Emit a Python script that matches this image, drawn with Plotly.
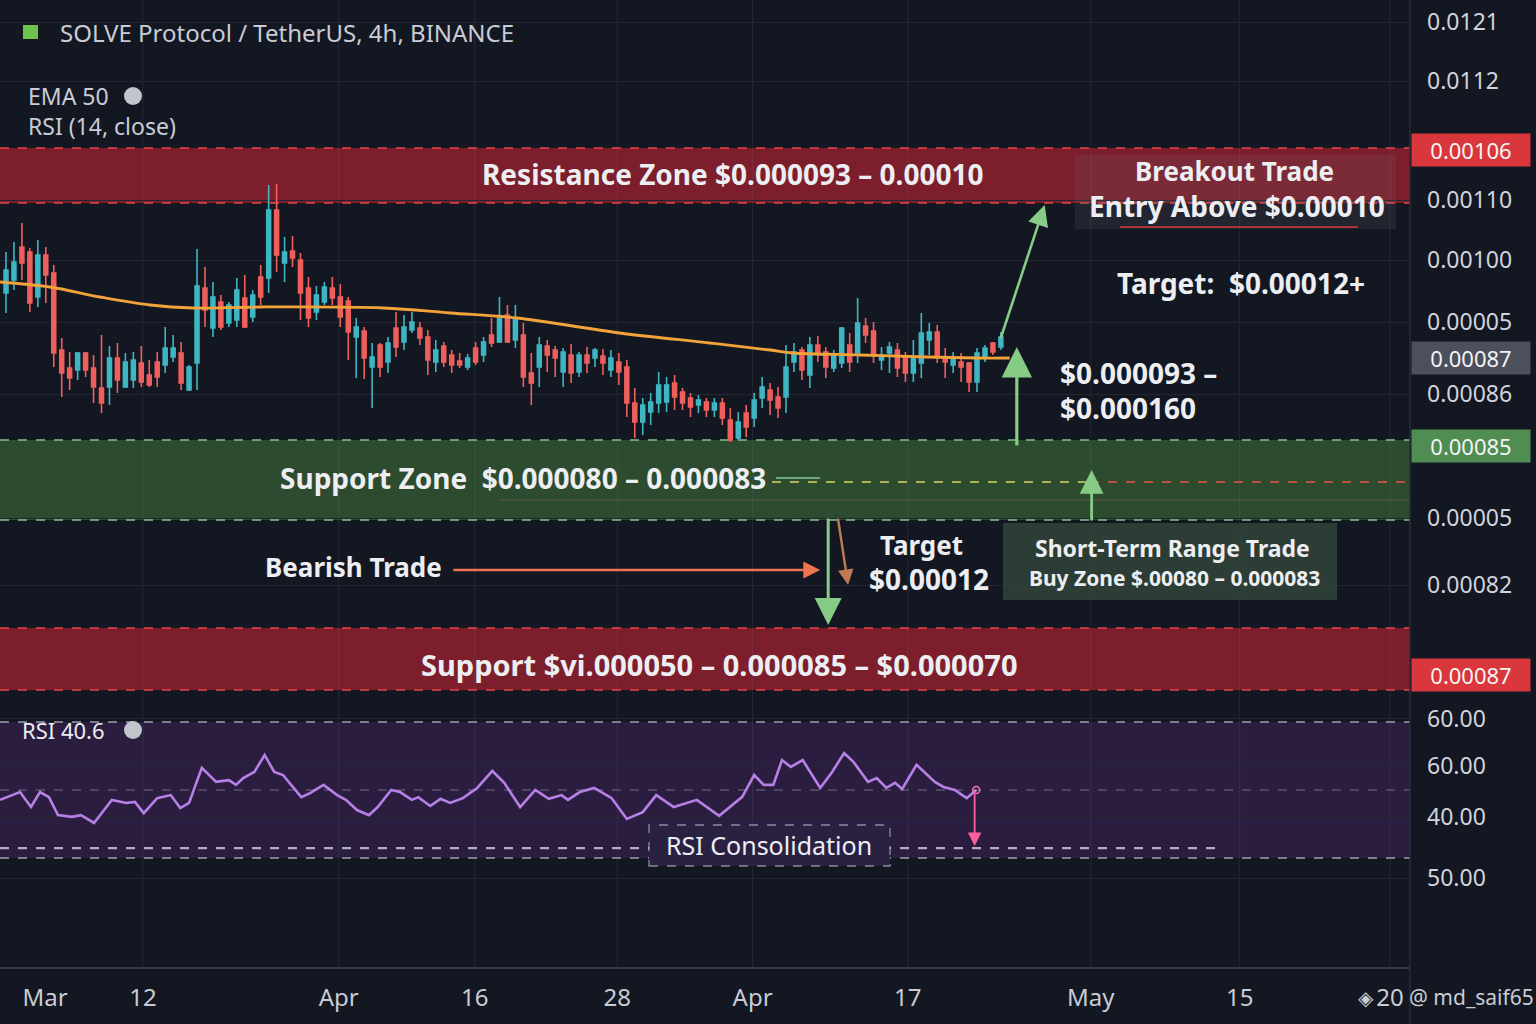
import numpy as np
import plotly.graph_objects as go

# ---------------- data (prices in micro-USDT, 1e-6) ----------------
U = 1e-6
open_u = [90.7, 92.0, 95.3, 94.8, 90.3, 94.5, 92.7, 85.0, 83.2, 83.0,
          84.7, 83.2, 81.2, 81.3, 84.2, 81.3, 82.0, 83.7, 82.5, 83.8,
          83.5, 84.3, 84.7, 81.0, 83.7, 91.2, 87.2, 89.8, 87.7, 88.0,
          90.2, 88.3, 92.3, 92.2, 99.0, 93.7, 94.9, 94.0, 91.2, 88.8,
          89.8, 91.2, 90.3, 89.9, 86.3, 86.9, 83.3, 85.5, 83.8, 87.2,
          85.8, 87.0, 87.2, 86.3, 83.8, 85.4, 84.5, 83.9, 83.3, 85.2,
          84.5, 86.5, 85.8, 88.5, 86.0, 86.5, 82.7, 83.3, 85.4, 85.0,
          82.8, 84.5, 82.8, 84.5, 84.2, 84.4, 83.0, 83.8, 83.3, 79.7,
          77.8, 78.8, 79.7, 79.8, 81.7, 80.8, 80.2, 79.5, 79.8, 79.0,
          79.7, 78.0, 76.2, 78.7, 78.2, 80.2, 81.0, 80.3, 80.3, 83.8,
          85.0, 82.5, 85.5, 84.8, 83.2, 83.7, 85.5, 84.7, 87.4, 86.9,
          84.0, 84.7, 85.0, 84.3, 82.7, 83.7, 86.0, 86.8, 84.3, 83.5,
          83.8, 83.7, 81.8, 84.3, 85.7, 85.3]
high_u = [94.8, 95.8, 97.7, 95.2, 96.0, 95.3, 93.5, 86.2, 84.8, 84.8,
          84.8, 84.5, 86.5, 85.4, 85.7, 84.7, 84.8, 85.4, 84.0, 84.8,
          87.3, 86.5, 85.8, 83.5, 95.1, 93.3, 91.8, 90.5, 89.8, 92.2,
          92.5, 91.0, 93.5, 101.5, 101.6, 96.3, 96.4, 94.7, 92.3, 91.4,
          91.8, 92.3, 91.6, 90.3, 88.2, 87.3, 85.7, 85.7, 86.3, 88.8,
          88.5, 88.8, 87.8, 87.0, 86.0, 85.8, 85.0, 84.7, 84.6, 85.8,
          86.3, 88.2, 90.3, 89.5, 89.5, 87.7, 84.7, 86.3, 86.0, 85.4,
          85.2, 85.6, 84.8, 85.3, 85.2, 85.1, 85.0, 84.7, 84.0, 81.2,
          80.2, 80.7, 82.8, 82.3, 82.5, 81.2, 80.7, 80.5, 80.2, 80.2,
          80.2, 79.2, 78.8, 79.5, 80.7, 82.3, 81.7, 81.3, 85.5, 85.7,
          85.3, 86.3, 86.4, 85.3, 85.0, 87.3, 86.7, 90.2, 88.2, 87.8,
          85.3, 85.8, 85.7, 84.8, 86.0, 88.7, 87.7, 87.5, 85.2, 84.8,
          84.7, 83.8, 85.2, 85.5, 85.8, 86.8]
low_u = [88.7, 91.0, 92.0, 88.8, 89.3, 89.7, 83.3, 80.3, 81.0, 82.0,
         82.3, 79.7, 78.7, 79.5, 80.7, 81.2, 81.2, 81.3, 81.3, 81.3,
         82.7, 83.8, 81.0, 80.9, 81.0, 87.3, 86.3, 87.0, 87.3, 87.3,
         87.2, 87.8, 89.5, 90.7, 92.8, 91.8, 93.3, 88.0, 87.3, 88.0,
         89.5, 89.5, 87.3, 84.0, 82.2, 82.1, 79.2, 82.3, 82.7, 84.3,
         85.0, 86.7, 85.5, 82.5, 82.8, 83.3, 82.7, 83.2, 83.0, 83.5,
         83.8, 85.3, 85.7, 85.7, 85.2, 81.3, 79.5, 81.3, 82.8, 82.3,
         81.3, 81.7, 82.3, 82.7, 83.3, 82.5, 82.3, 81.5, 78.3, 76.2,
         76.5, 77.5, 78.7, 78.8, 79.0, 79.0, 78.3, 78.7, 78.3, 78.3,
         77.5, 75.8, 76.0, 76.3, 77.3, 79.2, 78.5, 78.2, 78.7, 82.8,
         82.0, 81.2, 83.8, 82.2, 82.8, 83.2, 82.8, 83.7, 85.7, 83.7,
         83.0, 82.7, 82.3, 81.8, 81.8, 82.2, 84.5, 83.7, 82.2, 82.7,
         81.8, 80.8, 80.8, 83.8, 84.5, 85.0]
close_u = [93.0, 93.8, 93.7, 89.7, 94.5, 92.5, 84.7, 82.7, 82.2, 84.7,
           83.0, 81.3, 79.7, 84.2, 82.0, 83.8, 84.0, 81.8, 81.5, 82.3,
           85.2, 85.2, 81.7, 83.3, 91.4, 89.0, 90.3, 87.3, 89.5, 91.0,
           87.3, 90.5, 90.3, 99.0, 94.5, 94.8, 94.2, 90.7, 88.2, 90.5,
           91.3, 90.2, 88.3, 86.8, 87.3, 84.2, 84.3, 83.3, 85.7, 85.3,
           87.3, 87.8, 86.2, 84.0, 85.0, 83.8, 83.5, 83.5, 84.2, 83.8,
           85.8, 85.7, 88.2, 85.8, 88.2, 82.3, 81.7, 85.5, 84.5, 84.2,
           84.8, 82.7, 84.5, 83.7, 85.0, 83.7, 84.2, 82.8, 79.7, 77.8,
           79.5, 79.8, 81.5, 81.5, 80.3, 79.7, 79.3, 80.0, 79.0, 79.7,
           78.2, 76.0, 77.8, 77.3, 80.0, 81.3, 80.0, 79.2, 83.3, 84.8,
           83.0, 85.5, 84.7, 83.3, 84.5, 87.2, 83.8, 87.7, 86.5, 84.5,
           84.5, 85.3, 83.2, 82.7, 84.3, 86.7, 86.8, 84.3, 83.8, 84.2,
           83.3, 81.8, 84.7, 85.2, 84.8, 86.3]
bar_index = list(range(len(open_u)))

# EMA 50 (bar index, micro-USDT)
ema_idx = [-0.75, 5.5, 11.8, 18.1, 23.5, 31.9, 47.4, 55.8, 64.2, 77.1,
           88.4, 96.0, 98.9, 107.3, 115.7, 122.0, 126.1]
ema_u = [91.8, 91.3, 90.3, 89.5, 89.2, 89.3, 89.2, 88.7, 88.2, 86.7,
         85.7, 85.0, 84.7, 84.5, 84.3, 84.2, 84.2]

# RSI(14)
rsi_idx = [-0.75, 1.76, 3.14, 4.27, 5.40, 6.53, 8.29, 9.42, 11.06, 13.3,
           15.1, 16.2, 17.3, 19.0, 20.7, 21.9, 23.0, 24.6, 26.4, 28.0,
           28.9, 29.8, 31.2, 32.5, 33.7, 34.8, 37.1, 38.2, 39.9, 41.6,
           42.7, 44.1, 45.6, 46.7, 48.4, 49.5, 51.0, 51.8, 53.3, 54.6,
           55.8, 57.4, 59.2, 61.1, 62.6, 64.6, 66.5, 68.2, 69.8, 70.6,
           72.1, 73.9, 76.1, 78.0, 80.0, 81.7, 83.9, 85.7, 86.8, 89.6,
           92.5, 94.0, 95.2, 96.4, 97.5, 98.6, 100.1, 102.3, 103.8, 105.3,
           106.5, 108.3, 109.4, 110.6, 111.7, 112.6, 114.4, 116.7, 117.8, 119.2,
           120.7, 121.9]
rsi_val = [47.1, 49.4, 45.0, 49.4, 47.9, 42.6, 42.1, 42.6, 40.3, 47.1,
           46.2, 46.5, 43.2, 47.6, 48.5, 44.7, 46.2, 56.5, 52.4, 52.9,
           51.5, 53.5, 55.3, 60.3, 55.3, 54.4, 47.9, 49.1, 51.5, 48.5,
           47.1, 44.1, 42.6, 45.0, 50.0, 49.4, 47.1, 47.9, 45.3, 47.4,
           46.2, 47.6, 50.6, 55.6, 52.1, 45.0, 50.0, 47.4, 48.5, 47.1,
           49.4, 50.6, 47.6, 41.5, 43.5, 48.5, 45.0, 46.2, 47.1, 42.4,
           48.0, 54.4, 51.5, 51.5, 58.8, 56.8, 58.8, 50.6, 55.3, 60.9,
           58.2, 52.4, 53.5, 50.6, 52.1, 50.3, 57.4, 52.4, 50.9, 50.0,
           47.6, 50.0]

# axis labels
date_tick_pos = [4.9, 17.2, 41.8, 58.9, 76.8, 93.8, 113.3, 136.3, 155.0, 173.9]
date_tick_text = ["Mar", "12", "Apr", "16", "28", "Apr", "17", "May", "15", "20"]
price_tick_u = [117.8, 111.9, 100.0, 94.0, 87.8, 80.6, 68.2, 61.5]
price_tick_text = ["0.0121", "0.0112", "0.00110", "0.00100", "0.00005",
                   "0.00086", "0.00005", "0.00082"]
badge_u = [105.0, 84.2, 75.4, 52.5]
badge_text = ["0.00106", "0.00087", "0.00085", "0.00087"]
badge_color = ["#d9373b", "#4b505c", "#4f8d52", "#d9373b"]
rsi_tick_vals = [70.9, 57.1, 42.1, 24.1]
rsi_tick_text = ["60.00", "60.00", "40.00", "50.00"]

# zones (micro-USDT)
resistance_zone_u = (99.7, 105.2)
support_zone_u = (68.0, 76.0)
support_mid_u = 71.8
lower_zone_u = (51.0, 57.2)
rsi_band = (30, 70)

# ---------------- figure ----------------
W, H = 1536, 1024
PLOT_W = 1410
BG = "#131722"
FONT = "Noto Sans"
TXT = "#eceef2"
AXT = "#c9ccd4"


def px(x):
    return x / PLOT_W


def py(y):
    return 1 - y / H


o = np.array(open_u) * U
h = np.array(high_u) * U
l = np.array(low_u) * U
c = np.array(close_u) * U

fig = go.Figure()
fig.add_trace(go.Candlestick(
    x=bar_index, open=o, high=h, low=l, close=c,
    increasing=dict(line=dict(color="#3fb6c2", width=1.6), fillcolor="#3fb6c2"),
    decreasing=dict(line=dict(color="#ef5f5c", width=1.6), fillcolor="#ef5f5c"),
    whiskerwidth=0, showlegend=False, hoverinfo="skip", xaxis="x", yaxis="y"))
fig.add_trace(go.Scatter(
    x=ema_idx, y=np.array(ema_u) * U, mode="lines",
    line=dict(color="#f2a33a", width=2.8, shape="spline", smoothing=1.0),
    showlegend=False, hoverinfo="skip", xaxis="x", yaxis="y"))
fig.add_trace(go.Scatter(
    x=rsi_idx, y=rsi_val, mode="lines",
    line=dict(color="#b680e6", width=2.6),
    showlegend=False, hoverinfo="skip", xaxis="x", yaxis="y2"))
fig.add_trace(go.Scatter(
    x=[rsi_idx[-1]], y=[rsi_val[-1]], mode="markers",
    marker=dict(size=7, color="rgba(0,0,0,0)", line=dict(color="#ff6fa8", width=1.5)),
    showlegend=False, hoverinfo="skip", xaxis="x", yaxis="y2"))

shapes = []
RED_FILL = "rgba(140,32,46,0.88)"
RED_LINE = "#e2474d"
GREEN_FILL = "rgba(46,78,48,0.95)"
GREEN_LINE = "#86c08a"


def band(y0, y1, fill, line):
    shapes.append(dict(type="rect", xref="paper", yref="y", x0=0, x1=1,
                       y0=y0 * U, y1=y1 * U, fillcolor=fill, line=dict(width=0),
                       layer="below"))
    for yy in (y0, y1):
        shapes.append(dict(type="line", xref="paper", yref="y", x0=0, x1=1,
                           y0=yy * U, y1=yy * U,
                           line=dict(color=line, width=1.6, dash="dash"), layer="below"))


band(*resistance_zone_u, RED_FILL, RED_LINE)
band(*support_zone_u, GREEN_FILL, GREEN_LINE)
band(*lower_zone_u, RED_FILL, RED_LINE)

# support inner dashed lines
shapes.append(dict(type="line", xref="paper", yref="y", x0=px(772), x1=px(1090),
                   y0=support_mid_u * U, y1=support_mid_u * U,
                   line=dict(color="#d6d36a", width=1.5, dash="dash")))
shapes.append(dict(type="line", xref="paper", yref="y", x0=px(1090), x1=1,
                   y0=support_mid_u * U, y1=support_mid_u * U,
                   line=dict(color="#e0584f", width=1.5, dash="dash")))
shapes.append(dict(type="line", xref="paper", yref="y", x0=px(776), x1=px(820),
                   y0=(support_mid_u + 0.4) * U, y1=(support_mid_u + 0.4) * U,
                   line=dict(color="#7fc79a", width=1.3)))
shapes.append(dict(type="line", xref="paper", yref="y", x0=px(500), x1=1,
                   y0=(support_mid_u - 1.8) * U, y1=(support_mid_u - 1.8) * U,
                   line=dict(color="rgba(170,120,80,0.35)", width=1)))

# RSI band and lines
shapes.append(dict(type="rect", xref="paper", yref="y2", x0=0, x1=1,
                   y0=rsi_band[0], y1=rsi_band[1], fillcolor="rgba(44,30,66,0.95)",
                   line=dict(width=0), layer="below"))
for yy, col in ((70, "rgba(215,215,225,0.7)"), (30, "rgba(215,215,225,0.7)"),
                (50, "rgba(190,180,200,0.35)")):
    shapes.append(dict(type="line", xref="paper", yref="y2", x0=0, x1=1, y0=yy, y1=yy,
                       line=dict(color=col, width=1.3, dash="dash"), layer="below"))
shapes.append(dict(type="line", xref="paper", yref="y2", x0=0, x1=px(1222), y0=32.9, y1=32.9,
                   line=dict(color="rgba(225,225,232,0.75)", width=2.2, dash="dash")))

# vertical grid lines
for xv in date_tick_pos[1:]:
    shapes.append(dict(type="line", xref="x", yref="paper", x0=xv, x1=xv,
                       y0=py(967), y1=1, line=dict(color="rgba(120,130,150,0.16)", width=1),
                       layer="below"))
# price scale separator
shapes.append(dict(type="line", xref="paper", yref="paper", x0=1, x1=1, y0=0, y1=1,
                   line=dict(color="#2a2e39", width=1.5)))

# boxes
shapes.append(dict(type="rect", xref="paper", yref="paper", x0=px(1075), x1=px(1396),
                   y0=py(229), y1=py(155), fillcolor="rgba(120,110,125,0.16)",
                   line=dict(width=0)))
shapes.append(dict(type="line", xref="paper", yref="paper", x0=px(1120), x1=px(1358),
                   y0=py(227), y1=py(227), line=dict(color="#d8383c", width=1.6)))
shapes.append(dict(type="rect", xref="paper", yref="paper", x0=px(1003), x1=px(1337),
                   y0=py(600), y1=py(523), fillcolor="rgba(46,64,54,0.96)",
                   line=dict(width=0)))
shapes.append(dict(type="rect", xref="paper", yref="paper", x0=px(649), x1=px(890),
                   y0=py(866), y1=py(825), fillcolor="#2a2142",
                   line=dict(color="rgba(210,210,220,0.6)", width=1.3, dash="dash")))
# legend markers
shapes.append(dict(type="rect", xref="paper", yref="paper", x0=px(23), x1=px(38),
                   y0=py(39), y1=py(25), fillcolor="#6cc24a", line=dict(width=0)))
for cy in (96, 730):
    shapes.append(dict(type="circle", xref="paper", yref="paper", x0=px(124), x1=px(142),
                       y0=py(cy + 9), y1=py(cy - 9), fillcolor="#c3c5cc", line=dict(width=0)))

ann = []


def text(x, y, s, size=24, anchor="center", weight="normal", color=TXT, **kw):
    ann.append(dict(x=px(x), y=py(y), xref="paper", yref="paper", text=s,
                    showarrow=False, xanchor=anchor, yanchor="middle",
                    font=dict(family=FONT, size=size, color=color, weight=weight), **kw))


def arrow(x, y, ax, ay, color, yref="y", width=2.6, size=1.4):
    ann.append(dict(x=x, y=y, ax=ax, ay=ay, xref="x", yref=yref, axref="x", ayref=yref,
                    showarrow=True, arrowhead=2, arrowsize=size, arrowwidth=width,
                    arrowcolor=color, text=""))


text(58, 32, "SOLVE Protocol / TetherUS, 4h, BINANCE", 24, "left", color=AXT)
text(26, 96, "EMA 50", 23, "left", color=AXT)
text(26, 126, "RSI (14, close)", 23, "left", color=AXT)
text(733, 174, "Resistance Zone $0.000093 – 0.00010", 28, weight="bold")
text(1234, 171, "Breakout Trade", 26, weight="bold")
text(1237, 206, "Entry Above $0.00010", 28, weight="bold")
text(1115, 283, "Target:  $0.00012+", 28, "left", weight="bold")
text(1058, 373, "$0.000093 –", 28, "left", weight="bold")
text(1058, 408, "$0.000160", 28, "left", weight="bold")
text(523, 478, "Support Zone  $0.000080 – 0.000083", 28, weight="bold")
text(263, 567, "Bearish Trade", 26, "left", weight="bold")
text(922, 545, "Target", 26, weight="bold")
text(929, 579, "$0.00012", 28, weight="bold")
text(1172, 548, "Short-Term Range Trade", 23, weight="bold")
text(1174, 578, "Buy Zone $.00080 – 0.000083", 21, weight="bold")
text(719, 664, "Support $vi.000050 – 0.000085 – $0.000070", 29, weight="bold")
text(20, 730, "RSI 40.6", 22, "left")
text(769, 845, "RSI Consolidation", 25)
text(1366, 997, "◈", 20, color=AXT)
text(1407, 997, "@ md_saif65", 21, "left", color=AXT)

# price badges on the scale
for v, s, col in zip(badge_u, badge_text, badge_color):
    ann.append(dict(x=1411 / PLOT_W, y=v * U, xref="paper", yref="y", text=s,
                    showarrow=False, xanchor="left", yanchor="middle", bgcolor=col,
                    width=116, height=30, align="center", borderpad=1,
                    font=dict(family=FONT, size=22, color="#f4f4f6")))

# arrows (bar index / price coordinates)
GREEN_ARROW = "#86cc86"
arrow(130.5, 99.5 * U, 124.9, 86.0 * U, GREEN_ARROW, width=2.6, size=1.6)
arrow(127.0, 85.3 * U, 127.0, 75.3 * U, GREEN_ARROW, width=3.2, size=1.9)
arrow(136.4, 73.0 * U, 136.4, 67.8 * U, GREEN_ARROW, width=2.8, size=1.7)
arrow(103.3, 57.5 * U, 103.3, 68.3 * U, GREEN_ARROW, width=3.0, size=1.8)
arrow(102.3, 63.0 * U, 56.0, 63.0 * U, "#ee7550", width=2.6, size=1.3)
arrow(105.8, 61.5 * U, 104.5, 68.3 * U, "#c07a55", width=2.4, size=1.3)
arrow(121.7, 33.5, 121.7, 49.2, "#ff5f9e", yref="y2", width=1.8, size=1.5)

fig.update_layout(
    width=W, height=H, paper_bgcolor=BG, plot_bgcolor=BG,
    margin=dict(l=0, r=W - PLOT_W, t=0, b=0),
    shapes=shapes, annotations=ann, showlegend=False,
    font=dict(family=FONT, color=AXT),
    xaxis=dict(range=[-0.754, 176.4], anchor="y2", showgrid=False, zeroline=False,
               tickmode="array", tickvals=date_tick_pos, ticktext=date_tick_text,
               tickfont=dict(size=24, color=AXT, family=FONT), ticks="",
               ticklabelstandoff=8, showline=True, linecolor="#363a45", linewidth=1.5,
               rangeslider=dict(visible=False), fixedrange=True),
    yaxis=dict(domain=[1 - 700 / H, 1], range=[50 * U, 120 * U], side="right",
               anchor="x", tickmode="array", tickvals=[v * U for v in price_tick_u],
               ticktext=price_tick_text, showgrid=True, gridcolor="#222632",
               zeroline=False, ticks="", ticklabelstandoff=16,
               tickfont=dict(size=23, color="#d1d4dc", family=FONT)),
    yaxis2=dict(domain=[57 / H, 1 - 700 / H], range=[-2.06, 76.47], side="right",
                anchor="x", tickmode="array", tickvals=rsi_tick_vals,
                ticktext=rsi_tick_text, showgrid=True, gridcolor="#222632",
                zeroline=False, ticks="", ticklabelstandoff=16,
                tickfont=dict(size=23, color="#d1d4dc", family=FONT)),
)

fig.write_html("out.html", config={"displayModeBar": False},
               post_script="document.body.style.margin='0px';")
